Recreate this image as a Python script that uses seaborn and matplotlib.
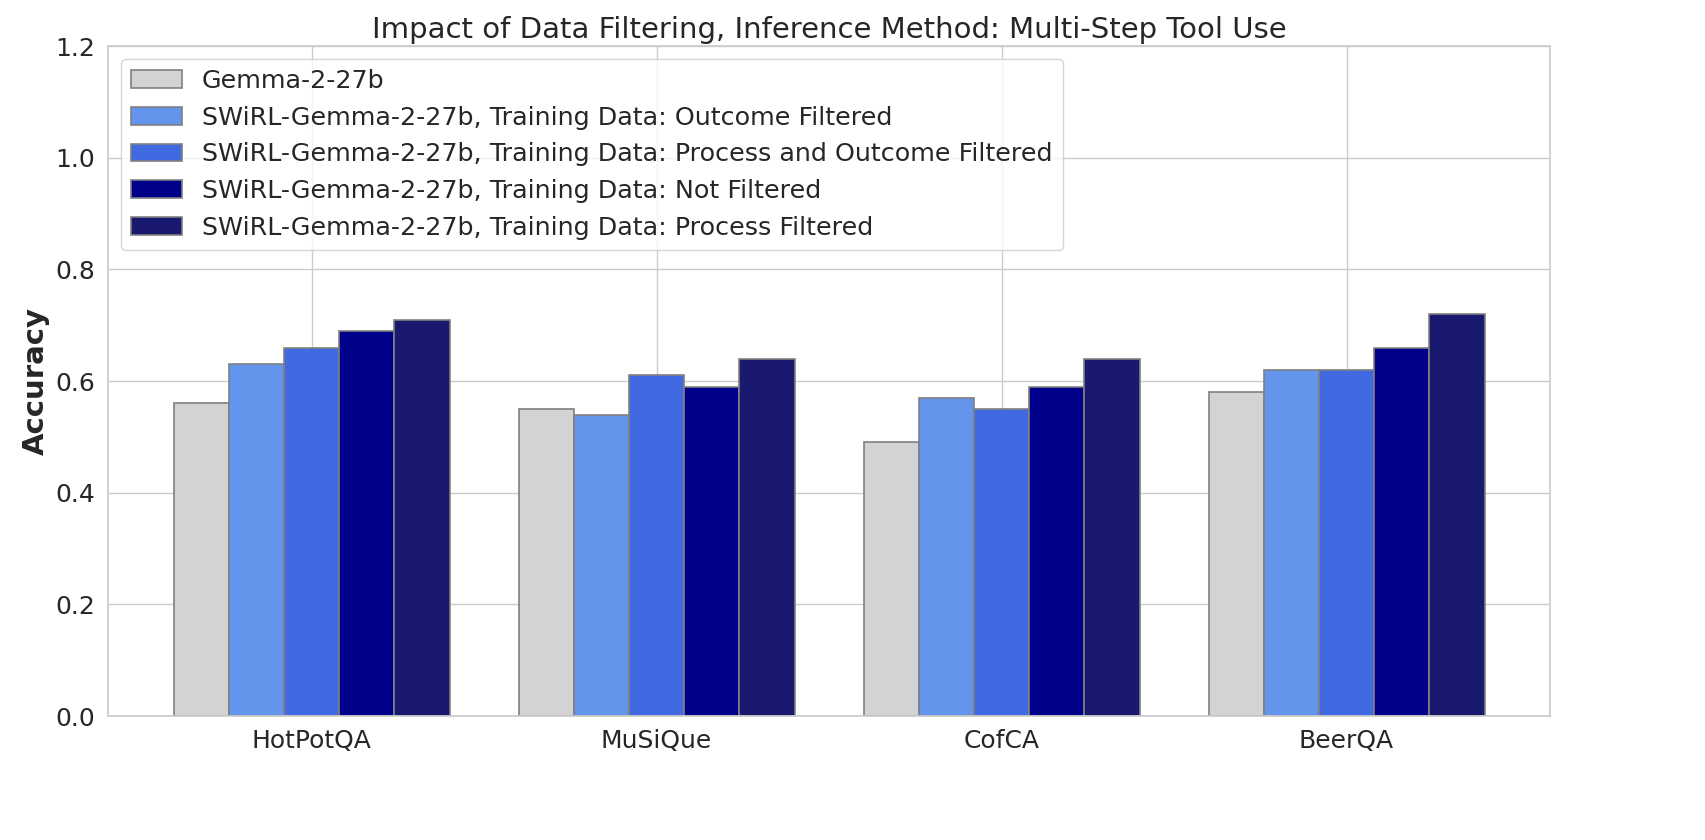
import pandas as pd
import seaborn as sns
import matplotlib.pyplot as plt

# data
datasets = ['HotPotQA', 'MuSiQue', 'CofCA', 'BeerQA']
models = [
    'Gemma-2-27b',
    'SWiRL-Gemma-2-27b, Training Data: Outcome Filtered',
    'SWiRL-Gemma-2-27b, Training Data: Process and Outcome Filtered',
    'SWiRL-Gemma-2-27b, Training Data: Not Filtered',
    'SWiRL-Gemma-2-27b, Training Data: Process Filtered',
]
base = [0.56, 0.55, 0.49, 0.58]
outcome = [0.63, 0.54, 0.57, 0.62]
proc_outcome = [0.66, 0.61, 0.55, 0.62]
not_filtered = [0.69, 0.59, 0.59, 0.66]
process = [0.71, 0.64, 0.64, 0.72]
colors = ['lightgray', 'cornflowerblue', 'royalblue', 'darkblue', 'midnightblue']

values = [base, outcome, proc_outcome, not_filtered, process]
rows = []
for m, vals in zip(models, values):
    for d, v in zip(datasets, vals):
        rows.append({'Dataset': d, 'Accuracy': v, 'Model': m})
df = pd.DataFrame(rows)

sns.set_theme(style='whitegrid')
plt.rcParams['font.family'] = ['DejaVu Sans']

fig, ax = plt.subplots(figsize=(17.06, 8.4), dpi=100)
fig.subplots_adjust(left=0.0633, right=0.9086, top=0.9452, bottom=0.1476)

sns.barplot(data=df, x='Dataset', y='Accuracy', hue='Model', hue_order=models,
            palette=colors, saturation=1, edgecolor='gray', linewidth=1.2,
            width=0.8, ax=ax)

ax.set_xlim(-0.59, 3.59)
ax.set_ylim(0, 1.2)
ax.xaxis.grid(True)
ax.set_axisbelow(True)
ax.set_xlabel('')
ax.set_ylabel('Accuracy', fontsize=21, fontweight='bold')
ax.set_title('Impact of Data Filtering, Inference Method: Multi-Step Tool Use', fontsize=21)
ax.tick_params(axis='both', labelsize=18)
ax.legend(loc='upper left', fontsize=18.3, title=None)

plt.savefig('out.png', dpi=100)
